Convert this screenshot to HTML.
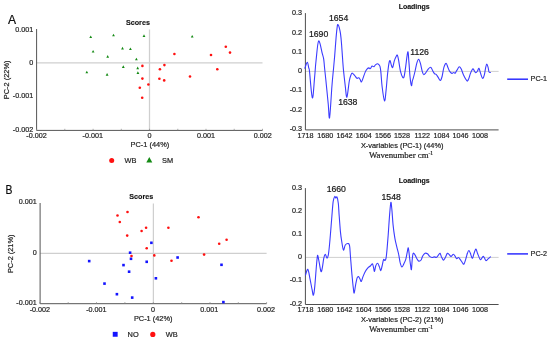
<!DOCTYPE html>
<html lang="en"><head><meta charset="utf-8"><title>PCA scores and loadings</title>
<style>html,body{margin:0;padding:0;background:#fff}svg{display:block}text{font-family:"Liberation Sans",Arial,sans-serif;fill:#262626}.t,.x,.y,.p,.s,.L{stroke:#222;stroke-width:.2px}.t{font-size:7.2px}.x{font-size:7.4px}.y{font-size:7.4px}.b{font-size:7.2px;font-weight:bold;fill:#111;stroke:#111;stroke-width:.12px}.b2{font-size:7.0px;font-weight:bold;fill:#111;stroke:#111;stroke-width:.12px}.p{font-size:8.7px;fill:#111}.s{font-family:"Liberation Serif","Times New Roman",serif;font-size:8.8px;fill:#1a1a1a}.L{fill:#000}.m{text-anchor:middle}.e{text-anchor:end}</style></head><body>
<svg width="550" height="340" viewBox="0 0 550 340">
<rect width="550" height="340" fill="#fff"/>
<g>
<line x1="36.6" y1="62.9" x2="262.5" y2="62.9" stroke="#cfcfcf" stroke-width="1.25"/>
<line x1="149.5" y1="29.5" x2="149.5" y2="130.4" stroke="#cfcfcf" stroke-width="1.25"/>
<path d="M36.6 29.0V130.4H262.5" fill="none" stroke="#555" stroke-width="1"/>
<path d="M36.6 130.4v-1.6M64.8 130.4v-1.6M93.1 130.4v-1.6M121.3 130.4v-1.6M149.5 130.4v-1.6M177.8 130.4v-1.6M206.0 130.4v-1.6M234.2 130.4v-1.6M262.5 130.4v-1.6" stroke="#888" stroke-width="0.7" fill="none"/>
<text class="t m" x="36.5" y="138.1">-0.002</text>
<text class="t m" x="92.7" y="138.1">-0.001</text>
<text class="t m" x="149.4" y="138.1">0</text>
<text class="t m" x="206.1" y="138.1">0.001</text>
<text class="t m" x="262.7" y="138.1">0.002</text>
<text class="t e" x="33.2" y="31.5">0.001</text>
<text class="t e" x="33.2" y="65.0">0</text>
<text class="t e" x="33.2" y="98.4">-0.001</text>
<text class="t e" x="33.2" y="131.8">-0.002</text>
<text class="x m" x="149.9" y="146.9">PC-1 (44%)</text>
<text class="y m" transform="translate(8.8 79.9) rotate(-90)">PC-2 (22%)</text>
<text class="b m" x="137.9" y="25.3">Scores</text>
<text class="L" transform="translate(8.0 23.7) scale(0.97 1)" font-size="12.5">A</text>
<path d="M90.70 35.47l1.40 2.58h-2.80z" fill="#148a14"/>
<path d="M113.50 33.67l1.40 2.58h-2.80z" fill="#148a14"/>
<path d="M144.00 34.37l1.40 2.58h-2.80z" fill="#148a14"/>
<path d="M192.20 34.97l1.40 2.58h-2.80z" fill="#148a14"/>
<path d="M93.10 49.97l1.40 2.58h-2.80z" fill="#148a14"/>
<path d="M122.50 46.87l1.40 2.58h-2.80z" fill="#148a14"/>
<path d="M130.40 47.47l1.40 2.58h-2.80z" fill="#148a14"/>
<path d="M107.70 55.07l1.40 2.58h-2.80z" fill="#148a14"/>
<path d="M136.40 57.67l1.40 2.58h-2.80z" fill="#148a14"/>
<path d="M123.30 65.37l1.40 2.58h-2.80z" fill="#148a14"/>
<path d="M137.70 66.57l1.40 2.58h-2.80z" fill="#148a14"/>
<path d="M86.80 70.67l1.40 2.58h-2.80z" fill="#148a14"/>
<path d="M107.10 73.07l1.40 2.58h-2.80z" fill="#148a14"/>
<path d="M137.90 71.37l1.40 2.58h-2.80z" fill="#148a14"/>
<circle cx="225.8" cy="46.8" r="1.30" fill="#ff1010"/>
<circle cx="230.0" cy="52.6" r="1.30" fill="#ff1010"/>
<circle cx="174.4" cy="54.0" r="1.30" fill="#ff1010"/>
<circle cx="211.0" cy="55.0" r="1.30" fill="#ff1010"/>
<circle cx="142.4" cy="65.9" r="1.30" fill="#ff1010"/>
<circle cx="164.4" cy="65.1" r="1.30" fill="#ff1010"/>
<circle cx="159.9" cy="69.3" r="1.30" fill="#ff1010"/>
<circle cx="217.3" cy="69.3" r="1.30" fill="#ff1010"/>
<circle cx="190.0" cy="76.5" r="1.30" fill="#ff1010"/>
<circle cx="142.4" cy="78.6" r="1.30" fill="#ff1010"/>
<circle cx="159.4" cy="78.8" r="1.30" fill="#ff1010"/>
<circle cx="164.2" cy="80.4" r="1.30" fill="#ff1010"/>
<circle cx="148.4" cy="84.5" r="1.30" fill="#ff1010"/>
<circle cx="139.8" cy="87.8" r="1.30" fill="#ff1010"/>
<circle cx="142.2" cy="97.7" r="1.30" fill="#ff1010"/>
<circle cx="111.7" cy="160.4" r="2.50" fill="#ff1010"/>
<text class="x" x="124.6" y="162.8">WB</text>
<path d="M149.30 156.95l3.00 5.52h-6.00z" fill="#148a14"/>
<text class="x" x="162.1" y="162.8">SM</text>
<line x1="40.1" y1="253.3" x2="266.6" y2="253.3" stroke="#cfcfcf" stroke-width="1.25"/>
<line x1="153.4" y1="203.5" x2="153.4" y2="303.7" stroke="#cfcfcf" stroke-width="1.25"/>
<path d="M40.1 203.0V303.7H266.6" fill="none" stroke="#555" stroke-width="1"/>
<path d="M39.8 303.7v-1.6M68.2 303.7v-1.6M96.5 303.7v-1.6M124.9 303.7v-1.6M153.3 303.7v-1.6M181.7 303.7v-1.6M210.0 303.7v-1.6M238.3 303.7v-1.6M266.6 303.7v-1.6" stroke="#888" stroke-width="0.7" fill="none"/>
<text class="t m" x="39.9" y="311.7">-0.002</text>
<text class="t m" x="96.4" y="311.7">-0.001</text>
<text class="t m" x="152.9" y="311.7">0</text>
<text class="t m" x="209.2" y="311.7">0.001</text>
<text class="t m" x="266.0" y="311.7">0.002</text>
<text class="t e" x="36.7" y="204.2">0.001</text>
<text class="t e" x="36.7" y="254.8">0</text>
<text class="t e" x="36.7" y="305.2">-0.001</text>
<text class="x m" x="153.2" y="321.4">PC-1 (42%)</text>
<text class="y m" transform="translate(12.7 253.8) rotate(-90)">PC-2 (21%)</text>
<text class="b m" x="141.3" y="199.0">Scores</text>
<text class="L" transform="translate(5.5 193.9) scale(0.85 1)" font-size="12.2">B</text>
<rect x="87.90" y="259.80" width="2.60" height="2.60" fill="#1414ff"/>
<rect x="103.20" y="282.30" width="2.60" height="2.60" fill="#1414ff"/>
<rect x="115.60" y="292.90" width="2.60" height="2.60" fill="#1414ff"/>
<rect x="122.20" y="263.80" width="2.60" height="2.60" fill="#1414ff"/>
<rect x="127.80" y="270.40" width="2.60" height="2.60" fill="#1414ff"/>
<rect x="128.80" y="251.40" width="2.60" height="2.60" fill="#1414ff"/>
<rect x="129.70" y="257.50" width="2.60" height="2.60" fill="#1414ff"/>
<rect x="130.90" y="296.30" width="2.60" height="2.60" fill="#1414ff"/>
<rect x="145.40" y="260.50" width="2.60" height="2.60" fill="#1414ff"/>
<rect x="150.10" y="241.50" width="2.60" height="2.60" fill="#1414ff"/>
<rect x="154.60" y="277.00" width="2.60" height="2.60" fill="#1414ff"/>
<rect x="176.30" y="256.20" width="2.60" height="2.60" fill="#1414ff"/>
<rect x="220.20" y="263.50" width="2.60" height="2.60" fill="#1414ff"/>
<rect x="222.10" y="300.80" width="2.60" height="2.60" fill="#1414ff"/>
<circle cx="117.5" cy="215.5" r="1.30" fill="#ff1010"/>
<circle cx="127.5" cy="212.0" r="1.30" fill="#ff1010"/>
<circle cx="119.8" cy="222.0" r="1.30" fill="#ff1010"/>
<circle cx="127.2" cy="235.6" r="1.30" fill="#ff1010"/>
<circle cx="141.6" cy="231.0" r="1.30" fill="#ff1010"/>
<circle cx="146.1" cy="227.8" r="1.30" fill="#ff1010"/>
<circle cx="146.7" cy="248.3" r="1.30" fill="#ff1010"/>
<circle cx="131.5" cy="256.0" r="1.30" fill="#ff1010"/>
<circle cx="154.3" cy="255.4" r="1.30" fill="#ff1010"/>
<circle cx="168.4" cy="227.7" r="1.30" fill="#ff1010"/>
<circle cx="171.5" cy="260.7" r="1.30" fill="#ff1010"/>
<circle cx="198.5" cy="217.3" r="1.30" fill="#ff1010"/>
<circle cx="204.1" cy="254.6" r="1.30" fill="#ff1010"/>
<circle cx="219.2" cy="243.7" r="1.30" fill="#ff1010"/>
<circle cx="226.6" cy="239.7" r="1.30" fill="#ff1010"/>
<rect x="112.75" y="331.85" width="4.90" height="4.90" fill="#1414ff"/>
<text class="x" x="127.6" y="336.5">NO</text>
<circle cx="152.8" cy="334.4" r="2.60" fill="#ff1010"/>
<text class="x" x="165.7" y="336.6">WB</text>
<line x1="305.4" y1="71.4" x2="498.6" y2="71.4" stroke="#cfcfcf" stroke-width="1"/>
<path d="M305.4 13.1V129.9H498.6" fill="none" stroke="#4e4e4e" stroke-width="1"/>
<text class="t e" x="302.1" y="15.1">0.3</text>
<text class="t e" x="302.1" y="34.8">0.2</text>
<text class="t e" x="302.1" y="54.0">0.1</text>
<text class="t e" x="302.1" y="73.2">0</text>
<text class="t e" x="302.1" y="92.4">-0.1</text>
<text class="t e" x="302.1" y="111.7">-0.2</text>
<text class="t e" x="302.1" y="130.8">-0.3</text>
<text class="t m" x="305.4" y="138.0">1718</text>
<text class="t m" x="325.2" y="138.0">1680</text>
<text class="t m" x="344.4" y="138.0">1642</text>
<text class="t m" x="363.8" y="138.0">1604</text>
<text class="t m" x="382.9" y="138.0">1566</text>
<text class="t m" x="402.0" y="138.0">1528</text>
<text class="t m" x="422.3" y="138.0">1122</text>
<text class="t m" x="441.4" y="138.0">1084</text>
<text class="t m" x="460.5" y="138.0">1046</text>
<text class="t m" x="479.9" y="138.0">1008</text>
<text class="x m" x="402.2" y="147.6">X-variables (PC-1) (44%)</text>
<text class="s m" x="401" y="157.5">Wavenumber cm<tspan font-size="5.5" dy="-3">-1</tspan></text>
<text class="b2 m" x="414.2" y="8.8">Loadings</text>
<path d="M304.9 68.2C305.3 67.2 306.6 62.4 307.3 62.4C308.0 62.4 308.4 66.7 308.8 68.2C309.2 69.7 308.9 66.4 309.5 71.4C310.1 76.4 311.5 97.0 312.4 98.0C313.2 99.0 314.0 83.6 314.6 77.4C315.2 71.2 315.3 67.1 316.0 61.0C316.7 54.9 317.6 42.2 318.6 41.0C319.7 39.8 321.5 50.6 322.3 53.6C323.1 56.6 323.3 56.7 323.7 59.1C324.1 61.5 324.1 63.6 324.6 68.2C325.1 72.8 325.9 80.4 326.5 86.5C327.1 92.6 327.8 99.5 328.3 104.7C328.8 109.9 329.0 120.6 329.6 117.6C330.2 114.6 331.3 94.4 331.9 86.5C332.5 78.6 332.9 75.2 333.4 70.0C333.9 64.8 334.2 61.0 334.7 55.6C335.1 50.2 335.7 42.3 336.1 37.4C336.5 32.5 337.0 28.3 337.3 26.2C337.6 24.1 337.7 24.4 338.0 24.6C338.3 24.8 338.8 25.8 339.2 27.3C339.6 28.8 340.1 30.8 340.5 33.7C340.9 36.6 341.3 40.8 341.6 44.7C341.9 48.7 342.2 52.9 342.5 57.4C342.8 61.9 343.1 66.6 343.6 71.4C344.1 76.2 344.8 82.2 345.3 86.5C345.9 90.8 346.2 98.1 346.9 97.2C347.6 96.3 348.6 84.8 349.3 81.0C350.0 77.2 350.6 75.9 351.1 74.6C351.6 73.3 351.8 73.0 352.4 73.2C353.0 73.4 353.9 74.7 354.7 75.5C355.4 76.3 356.2 77.9 356.9 78.3C357.6 78.7 358.2 77.5 358.8 77.7C359.4 77.9 359.8 78.9 360.2 79.6C360.6 80.3 361.0 82.3 361.5 81.9C362.0 81.5 362.7 79.1 363.3 77.4C363.9 75.7 364.7 73.3 365.3 71.9C365.9 70.5 366.6 69.5 367.2 68.8C367.8 68.1 368.5 67.9 369.0 67.9C369.5 67.9 369.8 68.9 370.3 68.6C370.8 68.3 371.5 66.4 372.1 66.1C372.7 65.8 373.3 67.0 373.9 66.8C374.5 66.5 375.0 65.1 375.7 64.6C376.4 64.1 377.4 63.6 378.1 63.9C378.8 64.2 379.4 64.8 379.9 66.1C380.3 67.3 380.4 68.0 380.8 71.4C381.2 74.8 381.5 81.6 382.1 86.5C382.7 91.4 383.8 100.2 384.5 100.8C385.2 101.4 385.6 94.6 386.1 90.1C386.6 85.6 387.1 78.1 387.6 73.7C388.1 69.3 388.5 65.9 388.9 63.7C389.3 61.5 389.6 60.5 390.0 60.6C390.4 60.8 390.8 63.4 391.2 64.6C391.6 65.8 392.2 68.1 392.7 67.5C393.2 66.9 393.7 62.8 394.3 60.9C394.9 59.0 395.9 56.9 396.4 56.0C396.9 55.1 397.0 54.6 397.4 55.3C397.8 56.0 398.1 57.4 398.6 60.1C399.1 62.8 399.8 68.5 400.5 71.4C401.2 74.3 402.1 76.6 402.7 77.4C403.3 78.2 403.6 78.2 404.1 76.5C404.6 74.8 405.0 71.5 405.6 67.4C406.2 63.3 407.2 52.8 407.8 51.9C408.4 51.0 408.5 57.8 408.9 61.9C409.3 66.0 409.6 72.5 410.0 76.5C410.4 80.5 411.0 84.8 411.4 85.6C411.8 86.4 412.0 82.3 412.3 81.1C412.6 79.9 412.7 80.0 413.2 78.3C413.7 76.6 414.5 73.6 415.1 71.0C415.7 68.4 416.3 64.8 416.9 62.8C417.5 60.8 418.1 59.1 418.7 59.2C419.3 59.4 419.9 61.6 420.5 63.7C421.1 65.8 421.8 70.1 422.4 71.9C422.9 73.7 423.2 74.6 423.8 74.7C424.4 74.8 425.2 73.5 426.0 72.5C426.8 71.5 427.6 69.6 428.4 68.8C429.2 68.0 430.2 67.0 430.9 67.4C431.6 67.8 432.2 69.9 432.8 71.0C433.4 72.1 434.1 73.2 434.6 73.8C435.2 74.3 435.5 73.7 436.1 74.3C436.7 74.9 437.5 76.4 438.2 77.4C438.9 78.4 439.6 80.7 440.3 80.5C441.0 80.3 441.5 78.7 442.1 76.5C442.7 74.3 443.2 69.6 443.9 67.4C444.6 65.2 445.4 63.4 446.1 63.4C446.8 63.4 447.3 66.1 447.9 67.4C448.5 68.7 449.0 70.4 449.7 71.4C450.4 72.4 451.2 73.2 451.9 73.4C452.6 73.6 453.2 72.5 453.8 72.5C454.4 72.5 454.7 73.6 455.2 73.2C455.7 72.8 456.3 71.2 457.0 70.1C457.7 69.0 458.5 67.0 459.2 66.8C459.9 66.6 460.4 67.5 461.1 68.8C461.8 70.1 462.6 73.0 463.4 74.7C464.2 76.4 465.1 78.1 465.8 79.2C466.5 80.3 466.9 81.2 467.4 81.1C467.9 80.9 468.3 79.7 468.9 78.3C469.4 76.9 470.0 74.4 470.7 72.8C471.4 71.2 472.3 69.1 472.9 68.8C473.5 68.5 473.9 70.3 474.4 71.0C474.9 71.7 475.3 72.8 475.8 72.8C476.3 72.8 477.0 71.8 477.5 71.0C478.0 70.2 478.4 68.0 478.9 68.3C479.4 68.6 479.8 71.1 480.4 72.8C481.0 74.5 481.9 78.0 482.6 78.3C483.3 78.6 483.9 76.5 484.4 74.7C484.9 72.9 485.3 69.2 485.7 67.4C486.1 65.6 486.4 64.1 486.8 64.1C487.2 64.1 487.7 66.1 488.1 67.4C488.5 68.7 488.6 71.1 489.0 71.9C489.4 72.8 490.2 72.4 490.4 72.5" fill="none" stroke="#3b3bff" stroke-width="1.1" stroke-linejoin="round" stroke-linecap="round"/>
<line x1="507.2" y1="79.2" x2="528" y2="79.2" stroke="#2626ff" stroke-width="1.45"/>
<text class="t" x="530.6" y="81.1">PC-1</text>
<text class="p m" x="318.6" y="36.7">1690</text>
<text class="p m" x="338.6" y="20.8">1654</text>
<text class="p m" x="347.8" y="104.9">1638</text>
<text class="p m" x="419.6" y="54.6">1126</text>
<line x1="305.4" y1="257.4" x2="498.6" y2="257.4" stroke="#cfcfcf" stroke-width="1"/>
<path d="M305.4 188.1V304.5H498.6" fill="none" stroke="#4e4e4e" stroke-width="1"/>
<text class="t e" x="302.1" y="190.1">0.3</text>
<text class="t e" x="302.1" y="213.1">0.2</text>
<text class="t e" x="302.1" y="236.1">0.1</text>
<text class="t e" x="302.1" y="259.2">0</text>
<text class="t e" x="302.1" y="282.2">-0.1</text>
<text class="t e" x="302.1" y="305.6">-0.2</text>
<text class="t m" x="305.4" y="312.2">1718</text>
<text class="t m" x="325.2" y="312.2">1680</text>
<text class="t m" x="344.4" y="312.2">1642</text>
<text class="t m" x="363.8" y="312.2">1604</text>
<text class="t m" x="382.9" y="312.2">1566</text>
<text class="t m" x="402.0" y="312.2">1528</text>
<text class="t m" x="422.3" y="312.2">1122</text>
<text class="t m" x="441.4" y="312.2">1084</text>
<text class="t m" x="460.5" y="312.2">1046</text>
<text class="t m" x="479.9" y="312.2">1008</text>
<text class="x m" x="402.2" y="321.6">X-variables (PC-2) (21%)</text>
<text class="s m" x="401" y="332.1">Wavenumber cm<tspan font-size="5.5" dy="-3">-1</tspan></text>
<text class="b2 m" x="414.2" y="183.0">Loadings</text>
<path d="M305.5 275.1C305.9 274.1 307.1 268.7 307.8 269.3C308.6 269.9 309.3 275.4 310.0 278.8C310.7 282.2 311.5 287.0 312.1 289.7C312.7 292.4 312.9 295.8 313.4 295.2C313.8 294.6 314.4 290.4 314.8 286.1C315.2 281.9 315.7 274.6 316.1 269.7C316.5 264.8 317.0 259.2 317.3 256.9C317.6 254.6 317.6 255.1 317.9 256.0C318.2 256.9 318.7 259.8 319.2 262.4C319.7 265.0 320.5 270.6 321.0 271.5C321.5 272.4 321.9 269.9 322.3 267.8C322.8 265.7 323.2 261.0 323.7 258.7C324.2 256.4 324.6 254.3 325.2 254.2C325.8 254.1 326.5 258.1 327.0 258.2C327.5 258.3 327.9 257.1 328.3 255.1C328.7 253.1 329.0 250.0 329.4 246.0C329.8 242.0 330.3 236.0 330.7 231.0C331.1 226.0 331.5 220.9 331.9 216.0C332.3 211.1 332.7 204.7 333.2 201.4C333.7 198.2 334.2 197.1 334.7 196.5C335.1 195.9 335.5 198.0 335.9 198.1C336.3 198.2 336.6 196.1 337.0 196.9C337.4 197.8 337.9 200.0 338.3 203.2C338.7 206.4 338.8 211.1 339.2 216.0C339.6 220.9 340.1 228.4 340.5 232.4C340.9 236.4 341.0 237.1 341.5 240.0C342.0 242.9 342.8 249.2 343.4 250.0C344.0 250.8 344.5 246.1 345.3 245.0C346.1 243.9 347.7 243.4 348.4 243.6C349.1 243.8 349.2 243.7 349.6 245.9C350.0 248.1 350.1 252.0 350.5 256.9C350.9 261.8 351.5 269.9 352.0 275.1C352.5 280.3 352.9 284.9 353.3 287.9C353.7 290.9 353.8 293.6 354.2 293.0C354.6 292.4 355.2 286.8 355.7 284.3C356.2 281.8 356.7 279.2 357.1 277.9C357.6 276.6 357.9 276.5 358.4 276.6C358.9 276.8 359.4 278.0 359.9 278.8C360.4 279.6 360.8 281.9 361.3 281.5C361.8 281.1 362.3 278.3 363.0 276.6C363.7 274.9 364.5 273.0 365.3 271.5C366.1 270.0 367.1 268.7 367.9 267.8C368.7 266.9 369.6 266.7 370.3 266.0C371.1 265.3 371.9 263.7 372.4 263.8C372.9 263.9 373.0 265.6 373.4 266.9C373.8 268.2 374.1 271.6 374.5 271.5C374.9 271.4 375.2 267.4 375.7 266.0C376.2 264.6 377.0 263.2 377.6 263.3C378.2 263.4 378.9 265.7 379.4 266.9C379.9 268.1 380.4 270.8 380.8 270.6C381.2 270.5 381.6 267.8 382.1 266.0C382.6 264.2 383.1 260.5 383.6 259.6C384.1 258.7 384.5 260.8 384.9 260.5C385.3 260.2 385.7 260.0 386.1 257.8C386.5 255.6 386.8 251.9 387.2 247.4C387.6 242.9 388.1 236.4 388.5 230.6C388.9 224.8 389.4 217.1 389.8 212.4C390.2 207.7 390.6 202.9 390.9 202.3C391.2 201.7 391.4 204.9 391.8 208.7C392.2 212.5 392.6 220.2 393.1 225.1C393.6 230.0 394.3 234.7 394.9 238.3C395.5 241.9 396.2 244.2 396.8 246.9C397.4 249.6 398.1 251.6 398.6 254.2C399.2 256.8 399.6 260.3 400.1 262.4C400.7 264.5 401.2 266.9 401.9 267.0C402.6 267.1 403.4 264.7 404.1 263.3C404.8 261.9 405.4 260.6 405.9 258.8C406.4 257.0 406.8 254.2 407.2 252.4C407.6 250.6 408.0 247.5 408.3 247.8C408.6 248.1 408.9 251.6 409.2 254.2C409.5 256.8 409.9 260.7 410.3 263.3C410.7 265.9 411.1 270.3 411.4 269.7C411.7 269.1 411.9 262.4 412.2 259.7C412.5 257.0 412.7 254.1 413.2 253.3C413.7 252.5 414.5 254.2 415.1 255.1C415.7 256.0 416.3 257.8 416.9 258.8C417.5 259.8 418.0 260.9 418.7 261.1C419.4 261.3 420.4 260.9 421.1 260.0C421.8 259.1 422.0 257.1 422.7 256.0C423.4 254.9 424.3 253.7 425.1 253.3C425.9 252.9 426.7 253.3 427.5 253.8C428.3 254.3 428.9 255.8 429.7 256.4C430.4 257.0 431.2 257.4 432.0 257.5C432.8 257.6 433.4 256.9 434.2 256.9C435.0 256.9 435.9 257.6 436.6 257.3C437.3 257.0 437.8 255.8 438.4 255.1C439.0 254.4 439.6 253.0 440.1 253.3C440.6 253.6 440.9 255.7 441.5 256.9C442.1 258.0 442.8 260.0 443.4 260.2C444.0 260.4 444.5 258.9 445.2 257.8C445.9 256.7 446.7 253.8 447.4 253.3C448.1 252.8 448.6 254.1 449.2 254.6C449.8 255.1 450.3 256.5 451.0 256.4C451.7 256.3 452.7 254.2 453.4 254.2C454.1 254.2 454.6 255.6 455.2 256.4C455.8 257.2 456.1 258.6 456.7 258.8C457.2 259.0 457.9 257.4 458.5 257.5C459.1 257.6 459.7 258.9 460.3 259.7C460.9 260.5 461.6 261.6 462.2 262.4C462.8 263.1 463.2 264.6 463.8 264.2C464.4 263.8 465.0 261.5 465.6 259.7C466.2 257.9 466.8 254.8 467.4 253.3C467.9 251.8 468.4 250.5 468.9 250.5C469.4 250.5 469.9 252.2 470.4 253.3C470.8 254.4 471.2 256.1 471.6 256.9C472.0 257.7 472.2 258.6 472.6 258.2C473.0 257.8 473.3 255.7 473.8 254.2C474.3 252.7 475.2 249.2 475.8 249.1C476.4 248.9 476.9 251.9 477.5 253.3C478.1 254.8 478.8 256.7 479.3 257.8C479.9 258.9 480.2 259.9 480.8 259.7C481.4 259.5 482.4 256.7 483.0 256.4C483.6 256.1 483.9 257.1 484.4 257.8C484.9 258.5 485.3 260.4 485.9 260.6C486.5 260.8 487.4 259.4 488.1 258.8C488.9 258.2 490.0 257.2 490.4 256.9" fill="none" stroke="#3b3bff" stroke-width="1.1" stroke-linejoin="round" stroke-linecap="round"/>
<line x1="507.2" y1="253.9" x2="528" y2="253.9" stroke="#2626ff" stroke-width="1.45"/>
<text class="t" x="530.6" y="255.8">PC-2</text>
<text class="p m" x="336.3" y="191.5">1660</text>
<text class="p m" x="391.2" y="200.0">1548</text>
</g></svg></body></html>
